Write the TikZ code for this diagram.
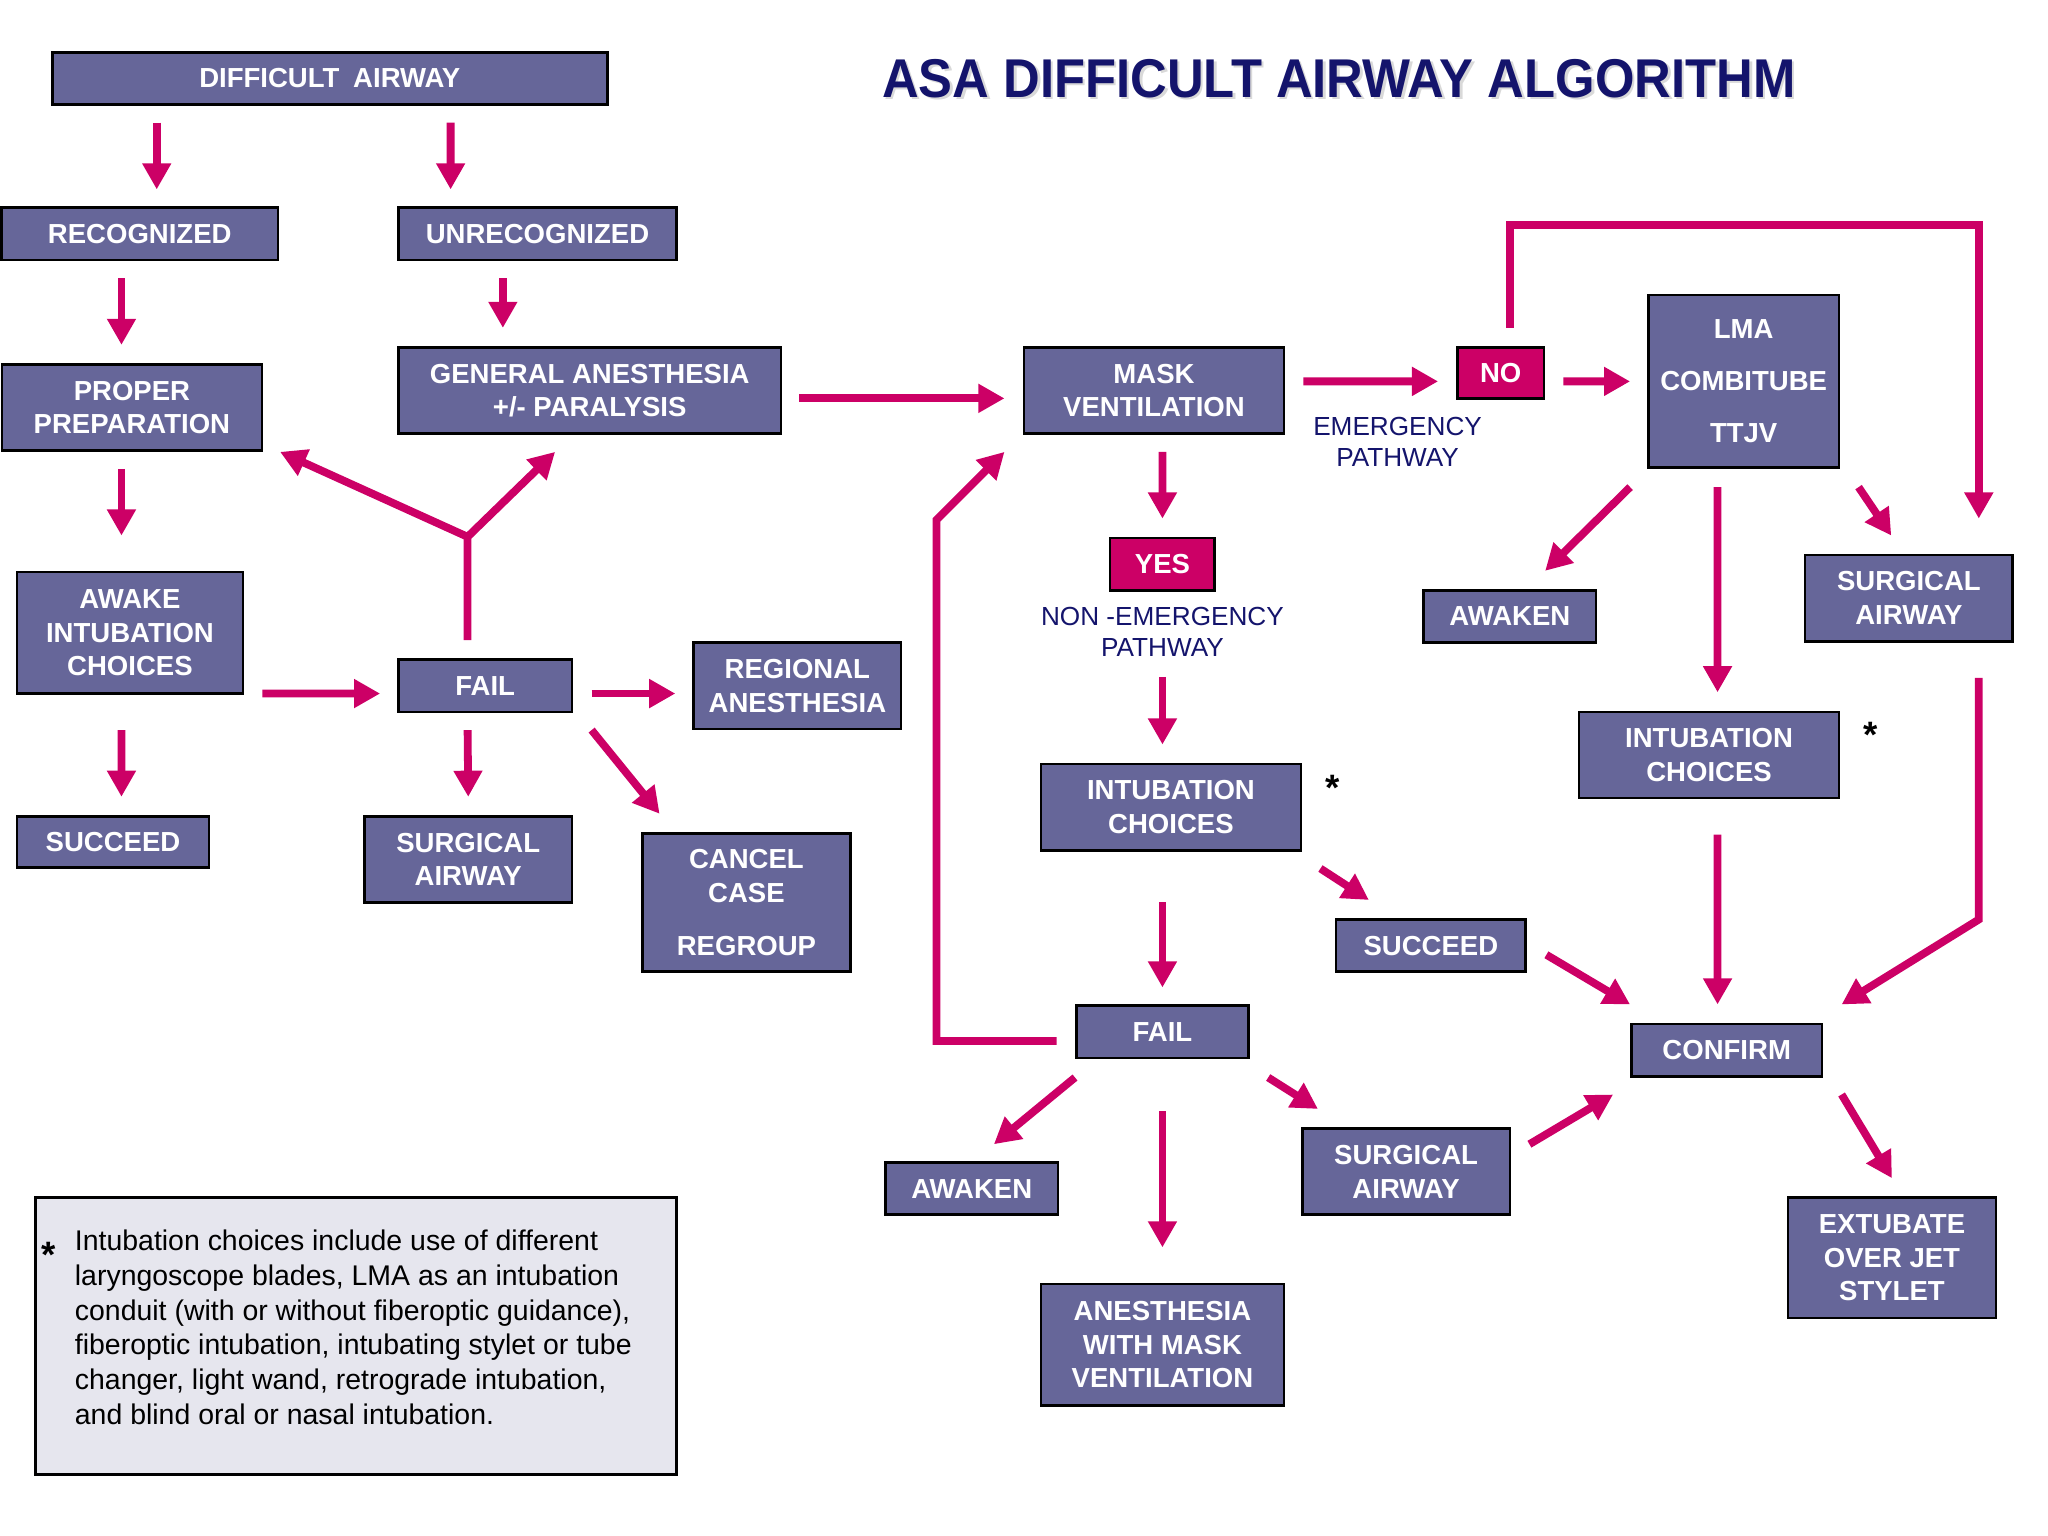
\documentclass[tikz,border=0pt]{standalone}
\usepackage{fontspec}
\setmainfont{Liberation Sans}
\newfontfamily\titelfont{Liberation Sans}[FakeStretch=0.93]
\usetikzlibrary{arrows.meta,calc}
\definecolor{kasten}{HTML}{666699}
\definecolor{pfeilrot}{HTML}{CC0066}
\definecolor{titelblau}{HTML}{14146C}
\definecolor{notiz}{HTML}{E6E6EE}
\tikzset{
    box/.style={draw=black, line width=1.1pt, fill=kasten, text=white, align=center, inner sep=0pt, font=\bfseries\fontsize{12}{14.7}\selectfont},
    antwort/.style={box, fill=pfeilrot},
    mass/.style 2 args={minimum width=#1, minimum height=#2},
    pfad/.style={align=center, inner sep=0pt, text=titelblau, font=\fontsize{11.4}{13.6}\selectfont},
    pfeil/.style={draw=pfeilrot, line width=3.4pt, -{Triangle[length=0.4cm, width=0.42cm]}},
    stern/.style={inner sep=0pt, font=\bfseries\fontsize{16}{16}\selectfont},
    titel/.style={inner sep=0pt, font=\titelfont\bfseries\fontsize{23.8}{26}\selectfont}
}

\begin{document}
\begin{tikzpicture}[x=0.02cm, y=-0.02cm]
    \useasboundingbox (0,0) rectangle (1568,1176);

    % zeichne Titel
    \node[titel, text=black!15] (schatten) at (1027,62) {ASA DIFFICULT AIRWAY ALGORITHM};
    \node[titel, text=titelblau] (titel) at (1025,60) {ASA DIFFICULT AIRWAY ALGORITHM};

    % zeichne Kaesten links
    \node[box, mass={8.5cm}{0.8cm}] (da) at (252.5,60) {DIFFICULT\enspace AIRWAY};
    \node[box, mass={4.24cm}{0.8cm}] (rec) at (107,179) {RECOGNIZED};
    \node[box, mass={4.26cm}{0.8cm}] (unrec) at (411.5,179) {UNRECOGNIZED};
    \node[box, mass={3.98cm}{1.32cm}] (prep) at (101,312) {PROPER\\PREPARATION};
    \node[box, mass={5.86cm}{1.32cm}] (ga) at (451.5,299) {GENERAL ANESTHESIA\\+/- PARALYSIS};
    \node[box, mass={3.46cm}{1.86cm}] (awake) at (99.5,484.5) {AWAKE\\INTUBATION\\CHOICES};
    \node[box, mass={2.66cm}{0.8cm}] (fail1) at (371.5,525) {FAIL};
    \node[box, mass={3.18cm}{1.32cm}] (regional) at (610.5,525) {REGIONAL\\ANESTHESIA};
    \node[box, mass={2.94cm}{0.78cm}] (succ1) at (86.5,644.5) {SUCCEED};
    \node[box, mass={3.18cm}{1.32cm}] (surg1) at (358.5,658) {SURGICAL\\AIRWAY};
    \node[box, mass={3.18cm}{2.12cm}] (cancel) at (571.5,691) {CANCEL\\CASE\\[8.5pt]REGROUP};

    % zeichne Kaesten Mitte
    \node[box, mass={3.98cm}{1.32cm}] (mask) at (883.5,299) {MASK\\VENTILATION};
    \node[antwort, mass={1.32cm}{0.78cm}] (no) at (1149,285.5) {NO};
    \node[pfad] (emerg) at (1070,338) {EMERGENCY\\PATHWAY};
    \node[antwort, mass={1.6cm}{0.8cm}] (yes) at (890,432) {YES};
    \node[pfad] (nonem) at (890,484) {NON -EMERGENCY\\PATHWAY};
    \node[box, mass={3.98cm}{1.32cm}] (intub1) at (896.5,618) {INTUBATION\\CHOICES};
    \node[stern] (stern1) at (1020,603) {*};
    \node[box, mass={2.9cm}{0.8cm}] (succ2) at (1095.5,724) {SUCCEED};
    \node[box, mass={2.64cm}{0.8cm}] (fail2) at (890,790) {FAIL};
    \node[box, mass={2.64cm}{0.8cm}] (awaken2) at (744,910) {AWAKEN};
    \node[box, mass={3.18cm}{1.32cm}] (surg3) at (1076.5,897) {SURGICAL\\AIRWAY};
    \node[box, mass={3.72cm}{1.86cm}] (anmask) at (890,1029.5) {ANESTHESIA\\WITH MASK\\VENTILATION};

    % zeichne Kaesten rechts
    \node[box, mass={2.92cm}{2.64cm}] (lma) at (1335,292) {LMA\\[8pt]COMBITUBE\\[8pt]TTJV};
    \node[box, mass={2.64cm}{0.8cm}] (awaken1) at (1156,472) {AWAKEN};
    \node[box, mass={3.18cm}{1.32cm}] (surg2) at (1461.5,458) {SURGICAL\\AIRWAY};
    \node[box, mass={3.98cm}{1.32cm}] (intub2) at (1308.5,578) {INTUBATION\\CHOICES};
    \node[stern] (stern2) at (1432,563) {*};
    \node[box, mass={2.92cm}{0.8cm}] (confirm) at (1322,804) {CONFIRM};
    \node[box, mass={3.18cm}{1.84cm}] (extub) at (1448.5,963) {EXTUBATE\\OVER JET\\STYLET};

    % zeichne Fussnote
    \node[draw=black, line width=1.3pt, fill=notiz, mass={9.82cm}{4.24cm}] (notiz) at (272.5,1023) {};
    \node[stern] (stern3) at (37,961) {*};
    \node[anchor=north west, inner sep=0pt, align=left, font=\fontsize{12.4}{15.1}\selectfont] (notiztext) at (57,941.5) {Intubation choices include use of different\\laryngoscope blades, LMA as an intubation\\conduit (with or without fiberoptic guidance),\\fiberoptic intubation, intubating stylet or tube\\changer, light wand, retrograde intubation,\\and blind oral or nasal intubation.};

    % Knickpunkte
    \coordinate (gabel) at (358,411);
    \coordinate (oben) at (1335,172);
    \coordinate (knick1) at (717,398);
    \coordinate (knick2) at (1515,704);

    % zeichne Pfeile links
    \draw[pfeil] ($(da.south)+(-132.5,13)$) -- ($(rec.north)+(13,-13)$);
    \draw[pfeil] ($(da.south)+(92.5,13)$) -- ($(unrec.north)+(-66.5,-13)$);
    \draw[pfeil] ($(rec.south)+(-14,13)$) -- ($(prep.north)+(-8,-14)$);
    \draw[pfeil] ($(unrec.south)+(-26.5,13)$) -- ($(ga.north)+(-66.5,-14)$);
    \draw[pfeil] ($(prep.south)+(-8,13)$) -- ($(awake.north)+(-6.5,-27)$);
    \draw[pfeil] ($(awake.south)+(-6.5,27)$) -- ($(succ1.north)+(6.5,-14)$);
    \draw[pfeil] ($(awake.east)+(14,46.5)$) -- ($(fail1.west)+(-13,6)$);
    \draw[pfeil] ($(fail1.east)+(14,6)$) -- ($(regional.west)+(-13,6)$);
    \draw[pfeil] ($(fail1.south)+(-13.5,13)$) -- ($(surg1.north)+(0,-14)$);
    \draw[pfeil] ($(fail1.south east)+(14,13)$) -- ($(cancel.north)+(-66.5,-14)$);
    \draw[pfeil] ($(fail1.north)+(-13.5,-14)$) -- (gabel) -- ($(prep.south east)+(13,0)$);
    \draw[pfeil] (gabel) -- ($(ga.south)+(-26.5,13)$);
    \draw[pfeil] ($(ga.east)+(13,6)$) -- ($(mask.west)+(-14,6)$);

    % zeichne Pfeile Mitte
    \draw[pfeil] ($(mask.east)+(14,-7)$) -- ($(no.west)+(-14,6.5)$);
    \draw[pfeil] ($(no.east)+(14,6.5)$) -- ($(lma.west)+(-13,0)$);
    \draw[pfeil] ($(no.north)+(7,-14)$) |- (oben) -| ($(surg2.north)+(53.5,-27)$);
    \draw[pfeil] ($(mask.south)+(6.5,13)$) -- ($(yes.north)+(0,-14)$);
    \draw[pfeil] ($(nonem.south)+(0,15)$) -- ($(intub1.north)+(-6.5,-14)$);
    \draw[pfeil] ($(intub1.south east)+(14,13)$) -- ($(succ2.north west)+(26,-14)$);
    \draw[pfeil] ($(intub1.south)+(-6.5,39)$) -- ($(fail2.north)+(0,-13)$);
    \draw[pfeil] ($(fail2.west)+(-14,7)$) -| (knick1) -- ($(mask.south west)+(-14,13)$);
    \draw[pfeil] ($(fail2.south west)+(0,14)$) -- ($(awaken2.north east)+(-50,-13)$);
    \draw[pfeil] ($(fail2.south)+(0,40)$) -- ($(anmask.north)+(0,-27)$);
    \draw[pfeil] ($(fail2.south east)+(14,14)$) -- ($(surg3.north west)+(13,-14)$);
    \draw[pfeil] ($(surg3.north east)+(14,13)$) -- ($(confirm.south west)+(-13,13)$);
    \draw[pfeil] ($(succ2.east)+(15,7)$) -- ($(confirm.north west)+(0,-14)$);

    % zeichne Pfeile rechts
    \draw[pfeil] ($(lma.south west)+(-13,14)$) -- ($(awaken1.north)+(27,-14)$);
    \draw[pfeil] ($(lma.south)+(-20,14)$) -- ($(intub2.north)+(6.5,-14)$);
    \draw[pfeil] ($(lma.south east)+(14,14)$) -- ($(surg2.north)+(-13.5,-14)$);
    \draw[pfeil] ($(intub2.south)+(6.5,27)$) -- ($(confirm.north)+(-7,-14)$);
    \draw[pfeil] ($(surg2.south)+(53.5,27)$) -- (knick2) -- ($(confirm.north east)+(14,-14)$);
    \draw[pfeil] ($(confirm.south east)+(14,13)$) -- ($(extub.north)+(0,-14)$);
\end{tikzpicture}
\end{document}
